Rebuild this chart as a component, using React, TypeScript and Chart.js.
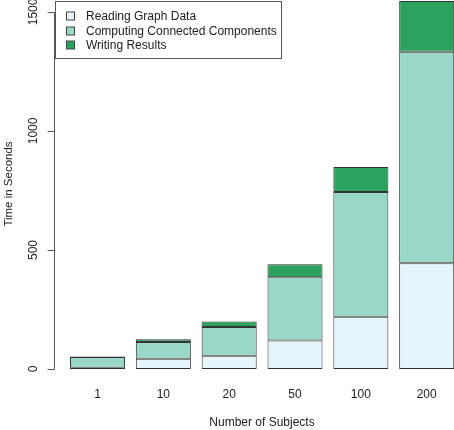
import React, { useEffect, useRef } from "react";
import { Chart, registerables } from "chart.js";

Chart.register(...registerables);

// Number of subjects processed in each run
const subjects = ["1", "10", "20", "50", "100", "200"];
// Time per phase, in seconds
const readingGraphData = [5, 43, 56, 120, 220, 444];
const computingComponents = [45, 70, 120, 265, 524, 889];
const writingResults = [3, 12, 24, 55, 105, 213];

const yTicks = [0, 500, 1000, 1500];
const seriesNames = ["Reading Graph Data", "Computing Connected Components", "Writing Results"];
const seriesColors = ["#E5F5F9", "#99D8C9", "#2CA25F"];

const FONT = "'Liberation Sans', Arial, Helvetica, sans-serif";

const axesAndLegend = {
  id: "axesAndLegend",
  afterDraw(chart: any) {
    const ctx = chart.ctx as CanvasRenderingContext2D;
    const y = chart.scales.y;
    const x = chart.scales.x;
    ctx.save();

    // y axis line and ticks
    const axisX = 54.5;
    ctx.strokeStyle = "#555";
    ctx.lineWidth = 1;
    ctx.beginPath();
    ctx.moveTo(axisX, Math.round(y.getPixelForValue(yTicks[0])) + 0.5);
    ctx.lineTo(axisX, Math.round(y.getPixelForValue(yTicks[yTicks.length - 1])) + 0.5);
    for (const t of yTicks) {
      const py = Math.round(y.getPixelForValue(t)) + 0.5;
      ctx.moveTo(axisX, py);
      ctx.lineTo(axisX - 7, py);
    }
    ctx.stroke();

    // rotated y tick labels
    ctx.fillStyle = "#222";
    ctx.font = `12px ${FONT}`;
    ctx.textAlign = "center";
    ctx.textBaseline = "middle";
    for (const t of yTicks) {
      const py = y.getPixelForValue(t);
      ctx.save();
      ctx.translate(34, py);
      ctx.rotate(-Math.PI / 2);
      ctx.fillText(String(t), 0, 0);
      ctx.restore();
    }

    // x category labels
    subjects.forEach((s, i) => {
      ctx.fillText(s, x.getPixelForValue(i), 395);
    });

    // axis titles
    ctx.fillText("Number of Subjects", 262, 423);
    ctx.save();
    ctx.translate(9, 184);
    ctx.rotate(-Math.PI / 2);
    ctx.font = `11.5px ${FONT}`;
    ctx.fillText("Time in Seconds", 0, 0);
    ctx.restore();

    // legend box
    const lx = 55.5, ly = 1.5, lw = 226, lh = 57;
    ctx.fillStyle = "#fff";
    ctx.fillRect(lx, ly, lw, lh);
    ctx.strokeStyle = "#555";
    ctx.strokeRect(lx, ly, lw, lh);
    ctx.textAlign = "left";
    ctx.font = `12px ${FONT}`;
    const rows = [16, 31, 45];
    seriesNames.forEach((name, i) => {
      ctx.fillStyle = seriesColors[i];
      ctx.fillRect(66.5, rows[i] - 4, 8, 8);
      ctx.strokeStyle = "#444";
      ctx.strokeRect(66.5, rows[i] - 4, 8, 8);
      ctx.fillStyle = "#222";
      ctx.fillText(name, 86, rows[i] + 0.5);
    });

    ctx.restore();
  },
};

export default function App() {
  const ref = useRef<HTMLCanvasElement | null>(null);

  useEffect(() => {
    if (!ref.current) return;
    const values = [readingGraphData, computingComponents, writingResults];
    const chart = new Chart(ref.current, {
      type: "bar",
      data: {
        labels: subjects,
        datasets: seriesNames.map((name, i) => ({
          label: name,
          data: values[i],
          backgroundColor: seriesColors[i],
          borderColor: "#333",
          borderWidth: 1,
          borderSkipped: false,
          barPercentage: 0.836,
          categoryPercentage: 1,
        })),
      },
      options: {
        responsive: false,
        animation: false,
        devicePixelRatio: 1,
        layout: { padding: { left: 64.6, right: 10.4, top: 0, bottom: 61 } },
        plugins: { legend: { display: false }, tooltip: { enabled: false } },
        scales: {
          x: { stacked: true, display: false, offset: true },
          y: { stacked: true, display: false, min: 0, max: 1550 },
        },
      },
      plugins: [axesAndLegend],
    });
    return () => chart.destroy();
  }, []);

  return (
    <div style={{ position: "fixed", left: 0, top: 0, width: 454, height: 430, overflow: "hidden", background: "#fff" }}>
      <canvas ref={ref} width={470} height={430} style={{ display: "block" }} />
    </div>
  );
}
